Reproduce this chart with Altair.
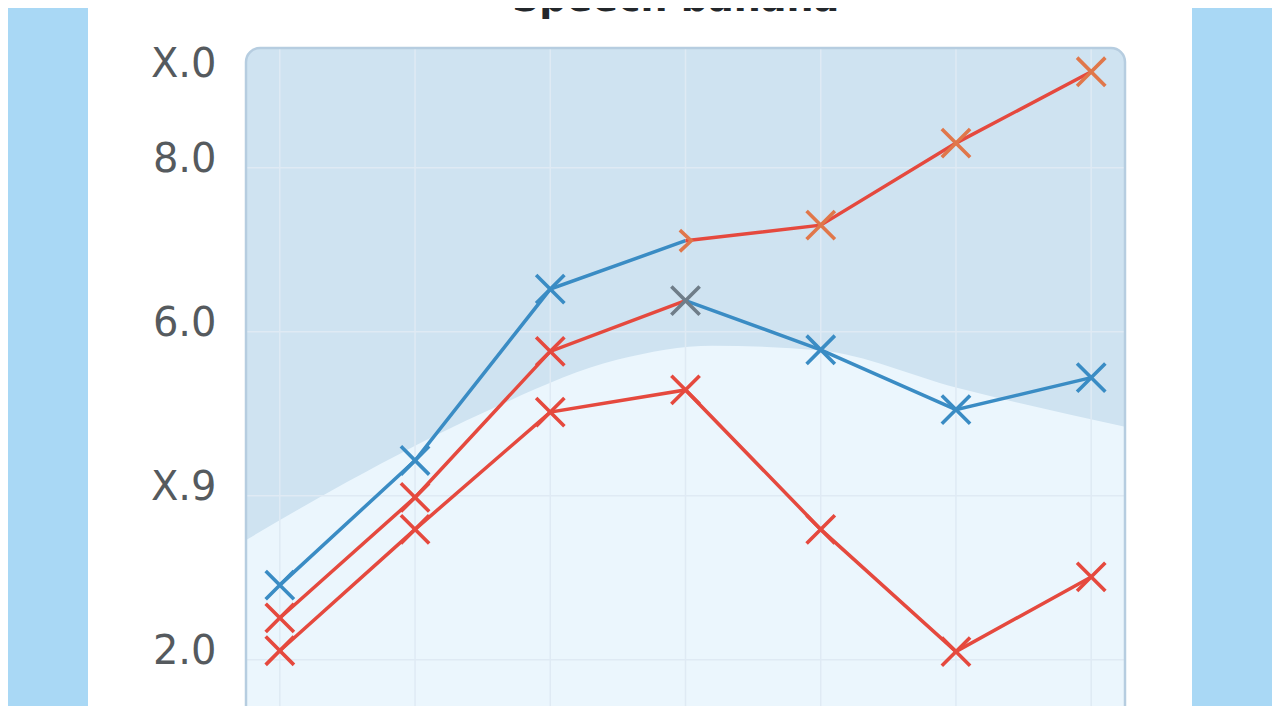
import altair as alt
import pandas as pd

# ---- data ----
x_index = [0, 1, 2, 3, 4, 5, 6]
series_a = [2.91, 4.43, 6.52, 7.11, 7.30, 8.30, 9.17]
series_b = [2.51, 3.98, 5.76, 6.38, 5.78, 5.05, 5.44]
series_c = [2.11, 3.59, 5.02, 5.29, 3.59, 2.10, 3.01]

banana_x = [-0.25, 0.5, 1.5, 2.5, 3.2, 4.0, 5.0, 6.25]
banana_top = [3.46, 4.17, 5.01, 5.66, 5.83, 5.77, 5.32, 4.84]

y_tick_values = [2.0, 4.0, 6.0, 8.0, 9.16]
y_tick_labels = ["2.0", "X.9", "6.0", "8.0", "X.0"]
grid_y = [2.0, 4.0, 6.0, 8.0]
title_text = "Speech banana"

X_DOM = [-0.25, 6.25]
Y_DOM = [0.68, 9.46]

# ---- tables built from the arrays ----
seg_rows = []
def add_seg(name, vals, lo, hi, tone):
    for i in range(lo, hi):
        seg_rows.append({"seg": name, "x": x_index[i], "y": vals[i], "tone": tone})

add_seg("A1", series_a, 0, 4, "blue")
add_seg("A2", series_a, 3, 7, "red")
add_seg("B1", series_b, 0, 4, "red")
add_seg("B2", series_b, 3, 7, "blue")
add_seg("C", series_c, 0, 7, "red")
segs = pd.DataFrame(seg_rows)

mk_rows = []
for i in x_index:
    mk_rows.append({"x": i, "y": series_c[i], "tone": "red", "kind": "x"})
for i in x_index:
    tone = "red" if i < 3 else ("gray" if i == 3 else "blue")
    mk_rows.append({"x": i, "y": series_b[i], "tone": tone, "kind": "x"})
for i in x_index:
    tone = "blue" if i < 3 else "orange"
    mk_rows.append({"x": i, "y": series_a[i], "tone": tone, "kind": "gt" if i == 3 else "x"})
markers = pd.DataFrame(mk_rows)

banana = pd.DataFrame({"x": banana_x, "top": banana_top, "bottom": [Y_DOM[0]] * len(banana_x)})
vgrid = pd.DataFrame({"x": x_index})
hgrid = pd.DataFrame({"y": grid_y})

label_map = "{" + ",".join(f"'{v:g}': '{l}'" for v, l in zip(y_tick_values, y_tick_labels)) + "}"

xs = alt.Scale(domain=X_DOM, nice=False, zero=False)
ys = alt.Scale(domain=Y_DOM, nice=False, zero=False)

X_PATH = "M-1,-1L1,1M-1,1L1,-1"
GT_PATH = "M-0.4,-0.75L0.4,0L-0.4,0.75"

base = alt.Chart(pd.DataFrame({"d": [0]}))

card = base.mark_rect(fill="#ffffff").encode(
    x=alt.value(-158), x2=alt.value(946), y=alt.value(-60), y2=alt.value(800)
)

plot_bg = base.mark_rect(fill="#cfe3f1", cornerRadius=14).encode(
    x=alt.datum(X_DOM[0], scale=xs, type="quantitative", axis=None),
    x2=alt.datum(X_DOM[1]),
    y=alt.datum(Y_DOM[0], scale=ys, type="quantitative",
                axis=alt.Axis(values=y_tick_values,
                              labelExpr=f"{label_map}[toString(datum.value)] || datum.label",
                              grid=False, domain=False, ticks=False, tickSize=0,
                              labelPadding=30, labelOffset=-8, labelFontSize=40,
                              labelFont="DejaVu Sans", labelColor="#555a5e",
                              title=None, zindex=1)),
    y2=alt.datum(Y_DOM[1]),
)

area = alt.Chart(banana).mark_area(interpolate="monotone", fill="#ebf6fd").encode(
    x=alt.X("x:Q", scale=xs), y=alt.Y("top:Q", scale=ys), y2="bottom:Q"
)

vrules = alt.Chart(vgrid).mark_rule(color="#dfeaf4", strokeWidth=1.5).encode(
    x=alt.X("x:Q", scale=xs)
)
hrules = alt.Chart(hgrid).mark_rule(color="#dfeaf4", strokeWidth=1.5).encode(
    y=alt.Y("y:Q", scale=ys)
)

border = base.mark_rect(fill=None, fillOpacity=0, stroke="#b6cde0", strokeWidth=2.5,
                        cornerRadius=14).encode(
    x=alt.datum(X_DOM[0], scale=xs, type="quantitative"),
    x2=alt.datum(X_DOM[1]),
    y=alt.datum(Y_DOM[0], scale=ys, type="quantitative"),
    y2=alt.datum(Y_DOM[1]),
)

lines = alt.Chart(segs).mark_line(strokeWidth=3.5).encode(
    x=alt.X("x:Q", scale=xs),
    y=alt.Y("y:Q", scale=ys),
    detail="seg:N",
    color=alt.Color("tone:N", scale=alt.Scale(domain=["blue", "red"],
                                              range=["#3a8cc4", "#e5493e"]), legend=None),
)

pts = alt.Chart(markers).mark_point(filled=False, size=800, strokeWidth=3.6, opacity=1).encode(
    x=alt.X("x:Q", scale=xs),
    y=alt.Y("y:Q", scale=ys),
    shape=alt.Shape("kind:N", scale=alt.Scale(domain=["x", "gt"], range=[X_PATH, GT_PATH]), legend=None),
    color=alt.Color("tone:N", scale=alt.Scale(domain=["blue", "red", "orange", "gray"],
                                              range=["#3a8cc4", "#e5493e", "#e0774a", "#6f7d89"]),
                    legend=None),
)

chart = alt.layer(card, plot_bg, area, vrules, hrules, border, lines, pts).resolve_scale(
    color="independent"
).properties(
    width=879,
    height=720,
    title=alt.TitleParams(title_text, fontSize=38, fontWeight="bold", color="#23272b",
                          font="DejaVu Sans", anchor="middle", dx=-10, offset=-31,
                          frame="group", zindex=1),
    autosize=alt.AutoSizeParams(type="none"),
    padding={"left": 238, "top": 40, "right": 147, "bottom": -62},
    background="#a9d8f5",
).configure_view(stroke=None)

chart.save("out.html", embed_options={"renderer": "svg", "actions": False})
